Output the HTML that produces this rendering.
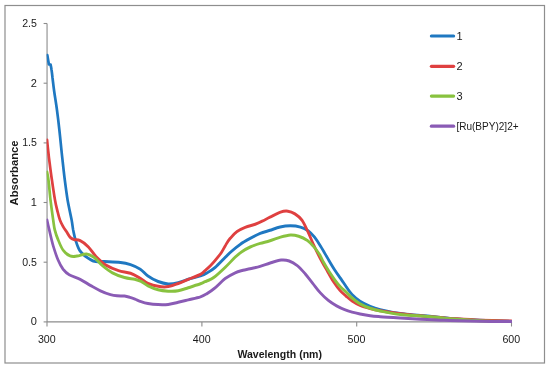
<!DOCTYPE html><html><head><meta charset="utf-8"><title>UV-Vis absorbance</title>
<style>html,body{margin:0;padding:0;background:#fff}svg{display:block}text{font-family:"Liberation Sans",sans-serif;fill:#1a1a1a}</style></head><body>
<svg width="550" height="368" viewBox="0 0 550 368">
<rect x="0" y="0" width="550" height="368" fill="#fff"/>
<rect x="5" y="5.5" width="539.5" height="357.5" fill="none" stroke="#8e8e8e" stroke-width="1.2"/>
<g stroke="#8c8c8c" stroke-width="1.1" fill="none">
<path d="M47.05 23.5V321.9M47.05 321.9H511.5"/>
<path d="M43.6 321.9H47.05"/>
<path d="M43.6 262.2H47.05"/>
<path d="M43.6 202.5H47.05"/>
<path d="M43.6 142.9H47.05"/>
<path d="M43.6 83.2H47.05"/>
<path d="M43.6 23.5H47.05"/>
<path d="M47.0 321.9V326.5"/>
<path d="M201.9 321.9V326.5"/>
<path d="M356.7 321.9V326.5"/>
<path d="M511.5 321.9V326.5"/>
</g>
<clipPath id="pc"><rect x="46.6" y="20" width="465.4" height="306"/></clipPath>
<g fill="none" stroke-width="3.0" stroke-linecap="round" stroke-linejoin="round" clip-path="url(#pc)"><g transform="scale(0.9 1)">
<path stroke="#1f78c1" d="M52.6 55.3L54.3 64.2L56.2 64.6C56.4 65.4 56.9 67.3 57.2 69.5C57.6 71.7 57.9 74.1 58.3 77.5C58.8 80.9 59.2 84.6 60.0 90.0C60.8 95.4 62.3 103.3 63.3 110.0C64.3 116.7 65.2 123.5 66.0 130.2C66.8 136.9 67.7 145.1 68.3 150.4C68.9 155.7 69.1 157.1 69.7 162.0C70.3 166.9 71.1 173.7 72.0 180.0C72.9 186.3 73.9 193.3 75.1 200.0C76.4 206.7 78.5 215.0 79.6 220.0C80.6 225.0 80.6 226.7 81.3 230.0C82.1 233.3 82.7 236.7 83.9 240.0C85.1 243.3 86.4 247.3 88.3 250.1C90.2 252.9 92.6 254.7 95.3 256.6C98.1 258.5 101.3 260.6 104.8 261.4C108.2 262.2 111.1 261.4 116.0 261.6C120.9 261.8 129.1 261.9 133.9 262.4C138.7 262.9 141.3 263.5 145.0 264.6C148.7 265.7 152.6 267.3 155.9 269.2C159.1 271.1 161.1 273.9 164.4 276.0C167.7 278.1 171.9 280.2 175.7 281.5C179.4 282.8 183.2 283.7 186.9 283.9C190.6 284.1 194.3 283.4 198.0 282.6C201.7 281.8 205.1 280.4 209.2 279.3C213.3 278.2 219.2 277.0 222.7 275.9C226.1 274.8 227.3 274.3 230.0 272.9C232.7 271.5 235.6 270.1 239.0 267.5C242.4 264.9 247.2 260.1 250.2 257.4C253.3 254.7 254.5 253.5 257.2 251.3C260.0 249.1 263.3 246.6 266.8 244.4C270.2 242.2 274.3 240.2 278.0 238.4C281.7 236.6 285.4 234.8 289.1 233.4C292.8 232.1 296.3 231.4 300.0 230.3C303.7 229.2 307.6 227.8 311.3 227.0C315.1 226.2 318.8 225.8 322.6 225.8C326.3 225.8 330.4 226.2 333.8 227.1C337.1 227.9 340.0 229.2 342.7 230.9C345.3 232.6 347.3 234.7 349.6 237.3C351.8 239.9 353.9 242.8 356.3 246.3C358.8 249.8 361.5 254.3 364.1 258.3C366.7 262.3 369.5 266.7 372.0 270.1C374.5 273.6 376.7 276.1 378.9 279.0C381.1 281.9 383.1 284.7 385.1 287.3C387.2 289.9 388.7 292.2 391.2 294.5C393.7 296.8 396.8 299.3 400.1 301.3C403.5 303.3 407.6 305.0 411.3 306.4C415.1 307.8 416.9 308.4 422.4 309.6C428.0 310.8 437.4 312.6 444.9 313.6C452.4 314.6 459.8 314.8 467.2 315.4C474.7 316.0 484.1 316.9 489.6 317.4C495.0 317.9 492.7 317.9 500.0 318.4C507.3 318.9 521.9 319.7 533.3 320.2C544.7 320.7 562.5 321.2 568.3 321.4"/>
<path stroke="#df4040" d="M52.3 140.0C52.5 142.0 53.2 148.3 53.7 152.0C54.1 155.7 54.3 157.3 55.0 162.0C55.7 166.7 56.6 173.7 57.7 180.0C58.7 186.3 60.1 194.8 61.1 200.0C62.1 205.2 62.9 207.7 63.8 211.0C64.7 214.3 65.5 217.4 66.6 220.0C67.6 222.6 68.9 224.6 70.1 226.5C71.3 228.4 72.6 229.9 73.9 231.7C75.2 233.5 76.6 236.1 78.0 237.4C79.4 238.7 80.4 239.1 82.2 239.6C84.1 240.1 86.5 239.5 89.1 240.7C91.8 241.9 95.1 244.1 98.1 246.8C101.1 249.5 103.6 253.7 107.0 256.8C110.4 259.9 114.1 263.1 118.2 265.4C122.3 267.7 127.2 269.3 131.7 270.6C136.1 271.9 141.0 272.0 145.0 273.3C149.0 274.6 152.6 276.6 155.9 278.3C159.1 280.0 161.1 282.0 164.4 283.3C167.7 284.6 171.9 285.8 175.7 286.3C179.4 286.9 183.2 287.1 186.9 286.6C190.6 286.1 194.3 284.7 198.0 283.5C201.7 282.3 205.1 280.8 209.2 279.3C213.3 277.8 219.6 275.8 222.7 274.3C225.8 272.9 225.9 272.1 227.8 270.6C229.6 269.2 232.0 267.3 233.9 265.6C235.8 263.9 237.0 262.8 239.0 260.6C241.0 258.4 244.2 254.9 246.1 252.3C248.0 249.8 249.0 247.6 250.6 245.3C252.1 243.0 253.5 240.7 255.7 238.4C257.8 236.1 260.6 233.2 263.4 231.4C266.2 229.6 269.1 228.6 272.4 227.4C275.8 226.2 280.4 225.2 283.6 224.2C286.7 223.2 288.6 222.4 291.3 221.2C294.1 220.0 296.6 218.7 300.0 217.2C303.4 215.7 308.4 213.1 311.7 212.1C315.0 211.1 317.2 210.9 319.9 211.2C322.6 211.5 325.1 212.4 327.7 213.9C330.3 215.4 333.1 217.1 335.6 220.2C338.0 223.3 340.2 228.0 342.4 232.3C344.7 236.7 347.0 242.0 349.2 246.3C351.4 250.7 353.3 254.1 355.8 258.4C358.3 262.7 361.8 268.1 364.3 272.1C366.9 276.1 368.7 279.2 370.9 282.2C373.1 285.2 375.3 287.9 377.6 290.2C379.8 292.5 382.2 294.2 384.4 296.0C386.7 297.8 388.6 299.4 391.2 301.0C393.8 302.6 396.8 304.1 400.1 305.4C403.5 306.6 407.6 307.6 411.3 308.5C415.1 309.4 416.9 309.8 422.4 310.7C428.0 311.6 437.4 312.9 444.9 313.8C452.4 314.7 459.8 315.2 467.2 315.8C474.7 316.4 484.1 317.2 489.6 317.6C495.0 318.0 492.7 318.0 500.0 318.4C507.3 318.8 521.9 319.8 533.3 320.2C544.7 320.6 562.5 321.0 568.3 321.1"/>
<path stroke="#88c23f" d="M52.3 172.1C52.6 173.6 53.4 176.3 54.0 181.0C54.6 185.7 55.3 193.5 56.1 200.0C57.0 206.5 58.3 215.0 59.1 220.0C59.9 225.0 60.0 226.7 60.9 230.0C61.8 233.3 63.1 236.7 64.7 240.0C66.2 243.3 67.9 247.4 70.1 250.1C72.3 252.8 75.2 254.9 77.8 255.9C80.4 256.9 82.5 256.4 85.6 256.1C88.6 255.8 92.9 253.7 96.1 253.9C99.3 254.2 101.8 255.7 104.8 257.6C107.7 259.6 110.4 263.1 113.8 265.6C117.1 268.1 120.8 270.8 124.9 272.8C129.0 274.8 134.2 276.4 138.3 277.5C142.4 278.6 146.5 278.6 149.6 279.2C152.6 279.8 154.2 280.3 156.7 281.4C159.1 282.5 161.3 284.4 164.4 285.8C167.6 287.2 171.9 288.9 175.7 289.8C179.4 290.7 183.2 291.0 186.9 291.2C190.6 291.4 194.3 291.4 198.0 290.8C201.7 290.2 205.1 288.9 209.2 287.7C213.3 286.5 219.6 284.8 222.7 283.8C225.8 282.8 226.0 282.4 227.8 281.7C229.6 281.0 231.5 280.5 233.3 279.6C235.2 278.7 236.2 278.5 239.0 276.5C241.8 274.5 246.5 270.6 250.2 267.4C253.9 264.2 258.3 259.8 261.3 257.2C264.4 254.6 265.6 253.7 268.3 252.0C271.1 250.3 274.5 248.4 278.0 247.0C281.5 245.6 285.4 244.4 289.1 243.4C292.8 242.4 296.2 241.9 300.0 240.8C303.8 239.8 307.9 238.1 311.7 237.1C315.5 236.1 319.5 235.1 322.9 234.9C326.3 234.8 328.8 235.3 331.9 236.2C335.0 237.1 338.8 238.8 341.6 240.5C344.3 242.2 346.0 244.0 348.2 246.3C350.5 248.6 353.1 251.8 355.0 254.4C356.9 257.0 357.6 259.2 359.4 262.1C361.3 265.1 363.9 269.0 366.1 272.1C368.4 275.2 370.8 278.4 372.9 281.0C375.0 283.6 376.8 285.5 378.8 287.4C380.8 289.3 382.9 290.6 385.0 292.4C387.1 294.2 388.7 296.1 391.2 298.0C393.7 299.9 396.8 302.1 400.1 303.8C403.5 305.5 407.6 307.1 411.3 308.3C415.1 309.5 416.9 310.0 422.4 311.0C428.0 312.0 437.4 313.7 444.9 314.5C452.4 315.3 459.8 315.4 467.2 316.0C474.7 316.6 484.1 317.3 489.6 317.8C495.0 318.3 492.7 318.3 500.0 318.8C507.3 319.3 521.9 320.2 533.3 320.7C544.7 321.1 562.5 321.4 568.3 321.5"/>
<path stroke="#8a5bb5" d="M52.3 220.1C52.7 221.8 53.6 225.7 54.8 230.0C55.9 234.3 57.6 241.1 59.2 246.1C60.9 251.1 62.7 256.3 64.6 260.2C66.4 264.1 68.1 266.8 70.1 269.2C72.2 271.6 73.7 273.0 76.9 274.7C80.1 276.4 85.2 277.5 89.1 279.3C93.0 281.1 96.6 283.4 100.3 285.3C104.1 287.2 107.8 289.2 111.6 290.8C115.3 292.4 119.6 293.8 122.7 294.6C125.7 295.4 127.4 295.6 130.0 295.8C132.6 296.1 135.9 295.8 138.3 296.1C140.7 296.4 142.5 296.9 144.4 297.4C146.4 297.9 148.0 298.4 150.0 299.1C152.0 299.8 154.3 300.9 156.7 301.6C159.1 302.4 161.3 303.1 164.4 303.6C167.6 304.1 171.8 304.5 175.6 304.6C179.3 304.7 183.1 304.8 186.9 304.4C190.6 304.0 194.3 303.1 198.0 302.3C201.7 301.6 205.1 300.8 209.2 299.9C213.3 299.0 219.2 297.9 222.7 296.9C226.1 295.8 227.4 295.0 230.0 293.6C232.6 292.2 235.1 290.8 238.4 288.3C241.8 285.8 246.4 281.2 250.2 278.6C254.0 276.0 258.0 274.2 261.3 272.8C264.6 271.4 267.3 271.0 270.0 270.3C272.7 269.6 274.6 269.5 277.8 268.8C280.9 268.1 285.3 267.4 289.0 266.4C292.7 265.4 296.3 264.1 300.2 263.0C304.1 261.9 308.9 260.4 312.4 260.1C316.0 259.8 318.5 260.1 321.4 261.0C324.4 261.9 327.4 263.5 330.3 265.6C333.2 267.7 336.0 270.6 338.9 273.6C341.8 276.6 344.9 280.5 347.8 283.7C350.6 286.9 353.2 290.2 356.1 293.0C359.0 295.8 362.0 298.5 365.0 300.6C368.0 302.8 371.0 304.4 374.0 305.9C377.0 307.4 380.0 308.7 382.9 309.7C385.8 310.7 388.4 311.4 391.2 312.1C394.1 312.8 396.8 313.3 400.1 313.9C403.5 314.5 407.6 315.2 411.3 315.7C415.1 316.2 416.9 316.3 422.4 316.7C428.0 317.1 437.4 317.6 444.9 318.0C452.4 318.4 459.8 318.8 467.2 319.2C474.7 319.6 484.1 320.0 489.6 320.2C495.0 320.4 492.7 320.4 500.0 320.6C507.3 320.8 521.9 321.0 533.3 321.2C544.7 321.4 562.5 321.5 568.3 321.6"/>
</g></g>
<text x="36.9" y="325.4" font-size="11" text-anchor="end">0</text>
<text x="36.9" y="265.7" font-size="11" text-anchor="end" textLength="14.7" lengthAdjust="spacingAndGlyphs">0.5</text>
<text x="36.9" y="206.0" font-size="11" text-anchor="end">1</text>
<text x="36.9" y="146.4" font-size="11" text-anchor="end" textLength="14.7" lengthAdjust="spacingAndGlyphs">1.5</text>
<text x="36.9" y="86.7" font-size="11" text-anchor="end">2</text>
<text x="36.9" y="27.0" font-size="11" text-anchor="end" textLength="14.7" lengthAdjust="spacingAndGlyphs">2.5</text>
<text x="46.8" y="343.4" font-size="11" text-anchor="middle" textLength="17.8" lengthAdjust="spacingAndGlyphs">300</text>
<text x="201.7" y="343.4" font-size="11" text-anchor="middle" textLength="17.8" lengthAdjust="spacingAndGlyphs">400</text>
<text x="356.5" y="343.4" font-size="11" text-anchor="middle" textLength="17.8" lengthAdjust="spacingAndGlyphs">500</text>
<text x="511.3" y="343.4" font-size="11" text-anchor="middle" textLength="17.8" lengthAdjust="spacingAndGlyphs">600</text>
<text x="237.4" y="358" font-size="11" font-weight="bold" textLength="84.6" lengthAdjust="spacingAndGlyphs">Wavelength (nm)</text>
<text transform="translate(18.3 205.4) rotate(-90)" font-size="11" font-weight="bold" textLength="65" lengthAdjust="spacingAndGlyphs">Absorbance</text>
<path d="M431.4 36.0H453.6" stroke="#1f78c1" stroke-width="3.2" stroke-linecap="round" fill="none"/>
<text x="456.4" y="39.9" font-size="11">1</text>
<path d="M431.4 66.3H453.6" stroke="#df4040" stroke-width="3.2" stroke-linecap="round" fill="none"/>
<text x="456.4" y="70.2" font-size="11">2</text>
<path d="M431.4 96.1H453.6" stroke="#88c23f" stroke-width="3.2" stroke-linecap="round" fill="none"/>
<text x="456.4" y="100.0" font-size="11">3</text>
<path d="M431.4 126.2H453.6" stroke="#8a5bb5" stroke-width="3.2" stroke-linecap="round" fill="none"/>
<text x="456.4" y="130.1" font-size="11" textLength="62.2" lengthAdjust="spacingAndGlyphs">[Ru(BPY)2]2+</text>
</svg></body></html>
